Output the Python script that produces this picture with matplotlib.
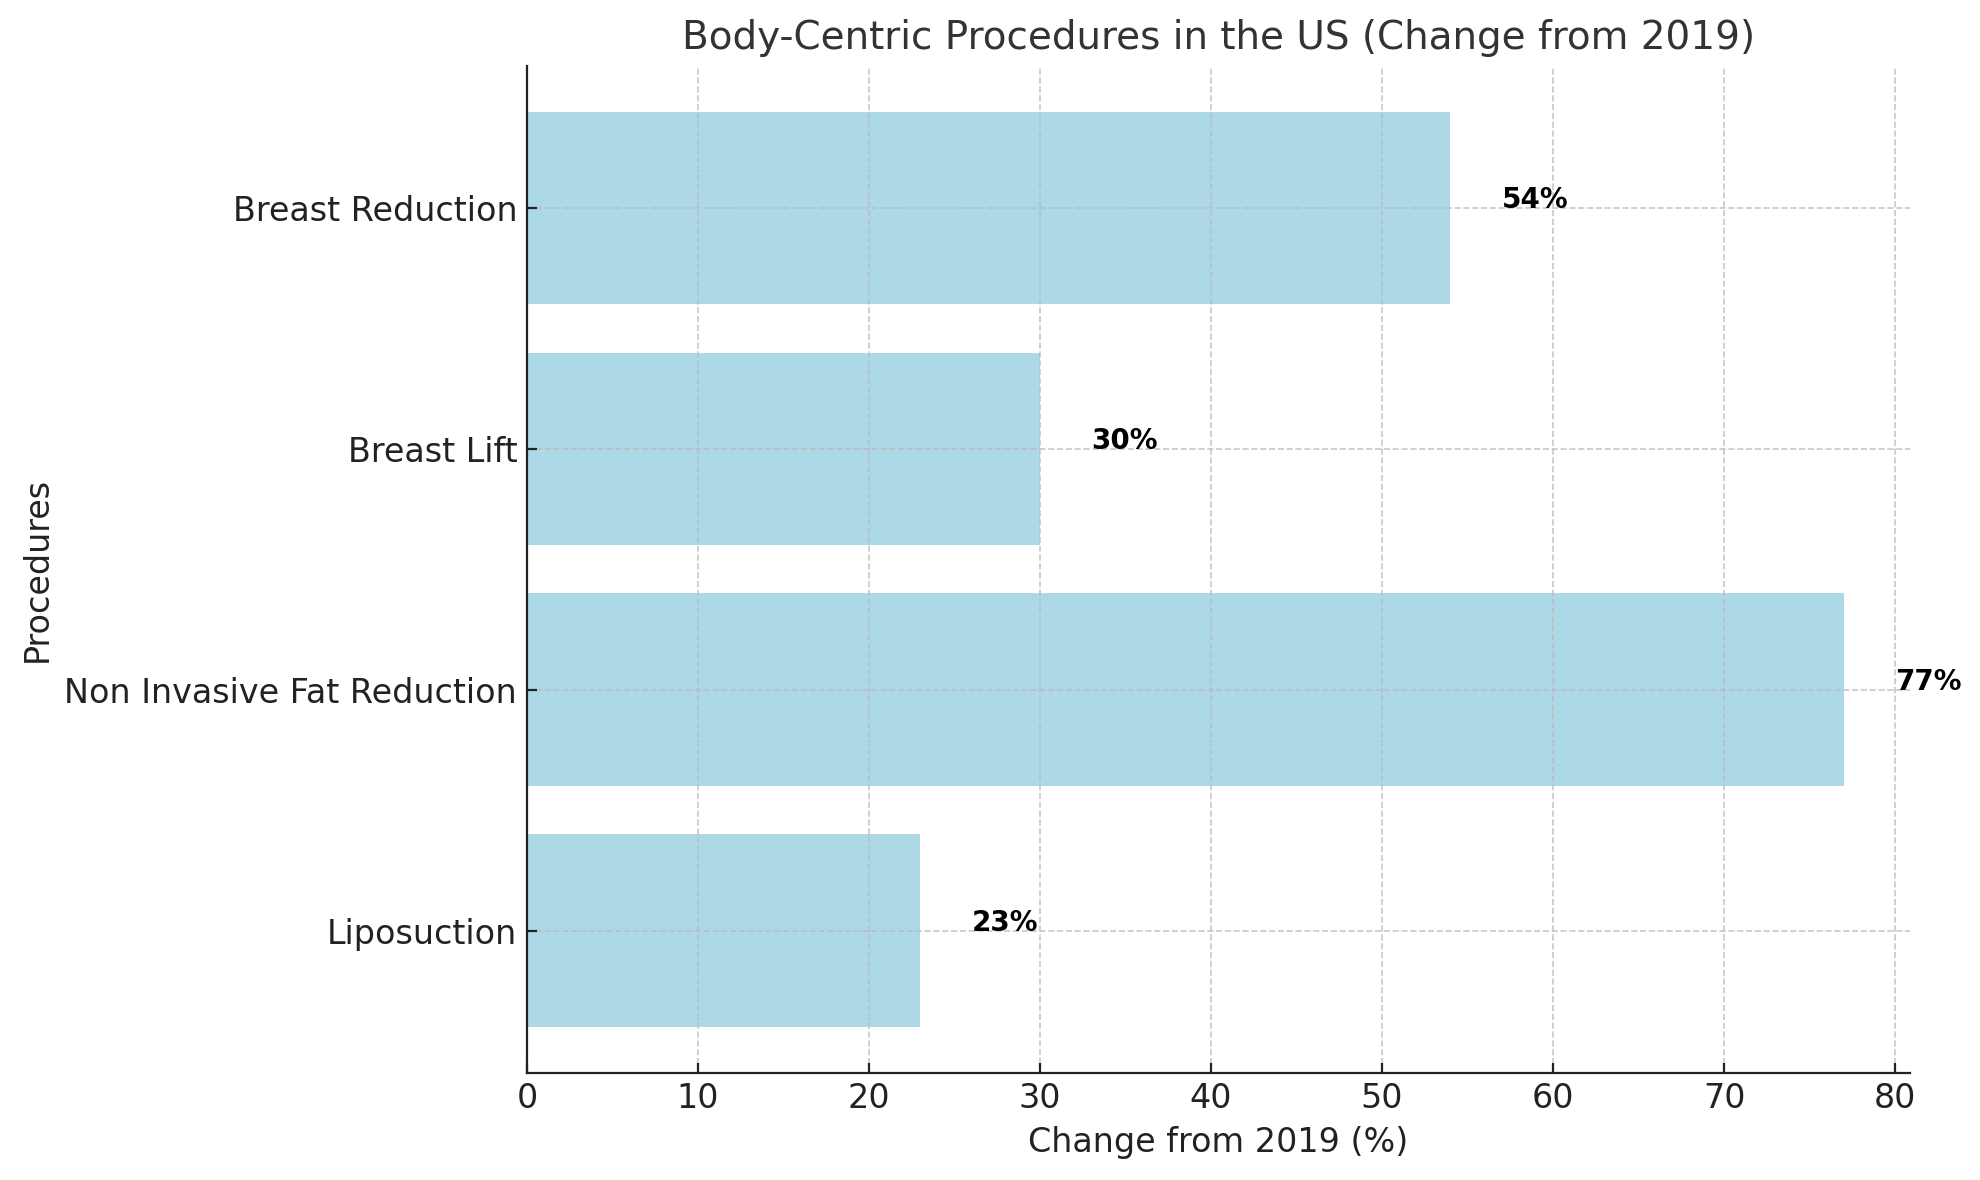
import matplotlib
matplotlib.use("Agg")
import matplotlib.pyplot as plt

procedures = ["Liposuction", "Non Invasive Fat Reduction", "Breast Lift", "Breast Reduction"]
changes = [23, 77, 30, 54]

fig, ax = plt.subplots(figsize=(9.905, 5.9), dpi=200)
fig.subplots_adjust(left=0.266, right=0.964, top=0.944, bottom=0.091)

bars = ax.barh(procedures, changes, color="lightblue")
for i, v in enumerate(changes):
    ax.text(v + 3, i, f"{v}%", fontweight="bold", fontsize=10, color="black")

ax.set_title("Body-Centric Procedures in the US (Change from 2019)", fontsize=14, color="#333333")
ax.set_xlabel("Change from 2019 (%)", fontsize=12, color="#222222")
ax.set_ylabel("Procedures", fontsize=12, color="#222222")
ax.tick_params(labelsize=12, colors="#222222", direction="in")
ax.grid(True, linestyle="--", color="#bbbbbb", alpha=0.8, linewidth=0.6)
ax.set_axisbelow(False)
for s in ["top", "right"]:
    ax.spines[s].set_visible(False)
for s in ["left", "bottom"]:
    ax.spines[s].set_color("#222222")
    ax.spines[s].set_zorder(5)

fig.savefig("out.png", dpi=200)
